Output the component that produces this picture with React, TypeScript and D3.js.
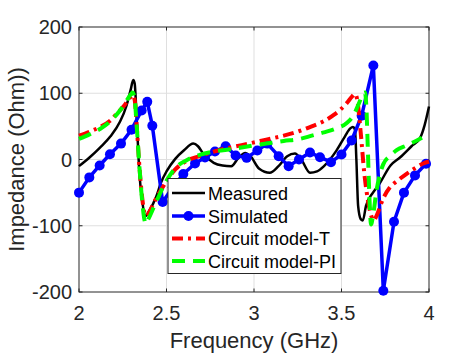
import React from "react";
import * as d3 from "d3";

const xTicks = [2, 2.5, 3, 3.5, 4];
const yTicks = [-200, -100, 0, 100, 200];

const measFreq = [2.0, 2.06, 2.12, 2.18, 2.234, 2.27, 2.295, 2.31, 2.318, 2.33, 2.345, 2.36, 2.381, 2.4, 2.44, 2.47, 2.5, 2.55, 2.6, 2.653, 2.68, 2.71, 2.77, 2.82, 2.87, 2.91, 2.95, 2.98, 3.03, 3.09, 3.14, 3.19, 3.234, 3.27, 3.32, 3.36, 3.4, 3.47, 3.52, 3.55, 3.565, 3.577, 3.585, 3.595, 3.61, 3.622, 3.64, 3.68, 3.716, 3.78, 3.834, 3.9, 3.95, 3.975, 4.0];
const measVal = [-10, 3, 18, 35, 57, 80, 105, 120, 115, 60, -20, -60, -85, -78, -57, -34, -18, 1, 14, 24, 20, 9, -5, -9, -10, 2, 10, 5, -14, -20, -10, 5, 9, 0, -20, -18, -10, 13, 35, 47, 49, 45, 0, -70, -90, -92, -70, -50, -37, -9, 3, 20, 33, 52, 80];

const simFreq = [2.0, 2.059, 2.118, 2.177, 2.24, 2.3, 2.358, 2.39, 2.419, 2.478, 2.536, 2.596, 2.663, 2.72, 2.777, 2.838, 2.895, 2.958, 3.019, 3.076, 3.141, 3.198, 3.257, 3.32, 3.377, 3.44, 3.5, 3.558, 3.615, 3.682, 3.739, 3.8, 3.857, 3.92, 3.983];
const simVal = [-50, -27, -9, 8, 24, 45, 74, 87, 51, -64, -42, -22, -6, 3, 12, 20, 6, 2.5, 13.5, 24, 5, -10, 0, 10.5, 3.5, -4, 7.5, 28.7, 66, 142, -198, -94, -50, -24, -6.5];

const tFreq = [2.0, 2.06, 2.12, 2.18, 2.215, 2.26, 2.29, 2.306, 2.318, 2.33, 2.345, 2.36, 2.376, 2.387, 2.4, 2.434, 2.49, 2.55, 2.615, 2.7, 2.8, 2.88, 2.97, 3.07, 3.17, 3.26, 3.33, 3.4, 3.46, 3.53, 3.56, 3.577, 3.59, 3.61, 3.63, 3.65, 3.67, 3.685, 3.7, 3.74, 3.777, 3.82, 3.87, 3.92, 3.967, 4.0];
const tVal = [36, 42, 49, 59, 69, 82, 93, 97, 90, 50, -10, -55, -82, -85, -80, -62, -37, -15, -2, 6, 14, 19, 24, 30, 36, 43, 50, 58, 68, 85, 95, 99, 90, 40, -20, -60, -85, -92, -85, -58, -42, -32, -22, -13, -6, -3];

const piFreq = [2.0, 2.06, 2.12, 2.18, 2.234, 2.27, 2.295, 2.306, 2.316, 2.33, 2.345, 2.36, 2.372, 2.381, 2.39, 2.444, 2.5, 2.55, 2.615, 2.69, 2.77, 2.88, 2.97, 3.07, 3.17, 3.26, 3.33, 3.4, 3.47, 3.53, 3.567, 3.6, 3.625, 3.634, 3.642, 3.65, 3.66, 3.669, 3.68, 3.7, 3.72, 3.739, 3.78, 3.815, 3.87, 3.91, 3.96];
const piVal = [31, 38, 46, 58, 74, 88, 98, 101, 95, 50, -10, -60, -88, -97, -93, -62, -32, -13, -1, 7, 12, 16, 20, 24, 28, 31, 36, 41, 47, 55, 66, 85, 100, 101, 80, 20, -60, -98, -85, -47, -22, -7, 6, 14, 21, 26, 33];

const legendLabels = ["Measured", "Simulated", "Circuit model-T", "Circuit model-PI"];

const W = 474, H = 355;
const L = 79, R = 429, T = 27, B = 292;
const FONT = "'Liberation Sans', Arial, Helvetica, sans-serif";
const TXT = "#262626";

export default function App() {
  const x = d3.scaleLinear().domain([2, 4]).range([L, R]);
  const y = d3.scaleLinear().domain([-200, 200]).range([B, T]);
  const zip = (fs: number[], vs: number[]) => fs.map((f, i) => [f, vs[i]] as [number, number]);
  const smooth = d3.line<[number, number]>().x(d => x(d[0])).y(d => y(d[1])).curve(d3.curveMonotoneX);
  const lin = d3.line<[number, number]>().x(d => x(d[0])).y(d => y(d[1]));
  const meas = zip(measFreq, measVal);
  const sim = zip(simFreq, simVal);
  const tm = zip(tFreq, tVal);
  const pi = zip(piFreq, piVal);

  const legX = 168, legY = 178.5, legW = 173, legH = 95;
  const rowY = [193, 216, 238.5, 261];
  const sx0 = 172, sx1 = 205;

  return (
    <svg width={W} height={H} style={{ position: "absolute", left: 0, top: 0, background: "#fff" }} fontFamily={FONT}>
      <rect x={0} y={0} width={W} height={H} fill="#fff" />
      {/* grid */}
      {xTicks.slice(1, -1).map(t => (
        <line key={"gx" + t} x1={x(t)} x2={x(t)} y1={T} y2={B} stroke="#dfdfdf" strokeWidth={1} />
      ))}
      {yTicks.slice(1, -1).map(t => (
        <line key={"gy" + t} x1={L} x2={R} y1={y(t)} y2={y(t)} stroke="#dfdfdf" strokeWidth={1} />
      ))}
      {/* frame */}
      <rect x={L} y={T} width={R - L} height={B - T} fill="none" stroke={TXT} strokeWidth={1} />
      {xTicks.map(t => (
        <g key={"tx" + t}>
          <line x1={x(t)} x2={x(t)} y1={B} y2={B - 3.5} stroke={TXT} />
          <line x1={x(t)} x2={x(t)} y1={T} y2={T + 3.5} stroke={TXT} />
          <text x={x(t)} y={320} textAnchor="middle" fontSize={20} fill={TXT}>{t}</text>
        </g>
      ))}
      {yTicks.map(t => (
        <g key={"ty" + t}>
          <line x1={L} x2={L + 3.5} y1={y(t)} y2={y(t)} stroke={TXT} />
          <line x1={R} x2={R - 3.5} y1={y(t)} y2={y(t)} stroke={TXT} />
          <text x={72} y={y(t) + 7} textAnchor="end" fontSize={20} fill={TXT}>{t}</text>
        </g>
      ))}
      <text x={(L + R) / 2} y={348} textAnchor="middle" fontSize={22} fill={TXT}>Frequency (GHz)</text>
      <text transform={`translate(24,${(T + B) / 2}) rotate(-90)`} textAnchor="middle" fontSize={22} fill={TXT}>Impedance (Ohm))</text>

      {/* series */}
      <path d={smooth(meas) || ""} fill="none" stroke="#000" strokeWidth={2.5} strokeLinejoin="round" />
      <path d={lin(sim) || ""} fill="none" stroke="#0000ff" strokeWidth={3.5} strokeLinejoin="round" />
      {sim.map((d, i) => (
        <circle key={"m" + i} cx={x(d[0])} cy={y(d[1])} r={5} fill="#0000ff" />
      ))}
      <path d={smooth(tm) || ""} fill="none" stroke="#ff0000" strokeWidth={4} strokeDasharray="11,5,3,5" />
      <path d={smooth(pi) || ""} fill="none" stroke="#00ff00" strokeWidth={4} strokeDasharray="13,8" />

      {/* legend */}
      <rect x={legX} y={legY} width={legW} height={legH} fill="#fff" stroke={TXT} strokeWidth={1} />
      <line x1={sx0} x2={sx1} y1={rowY[0]} y2={rowY[0]} stroke="#000" strokeWidth={2.5} />
      <line x1={sx0} x2={sx1} y1={rowY[1]} y2={rowY[1]} stroke="#0000ff" strokeWidth={3.5} />
      <circle cx={(sx0 + sx1) / 2} cy={rowY[1]} r={5} fill="#0000ff" />
      <line x1={sx0} x2={sx1} y1={rowY[2]} y2={rowY[2]} stroke="#ff0000" strokeWidth={4} strokeDasharray="11,5,3,5" />
      <line x1={sx0} x2={sx1} y1={rowY[3]} y2={rowY[3]} stroke="#00ff00" strokeWidth={4} strokeDasharray="13,8" />
      {legendLabels.map((lab, i) => (
        <text key={lab} x={208} y={rowY[i] + 6.5} fontSize={18} fill="#000">{lab}</text>
      ))}
    </svg>
  );
}
